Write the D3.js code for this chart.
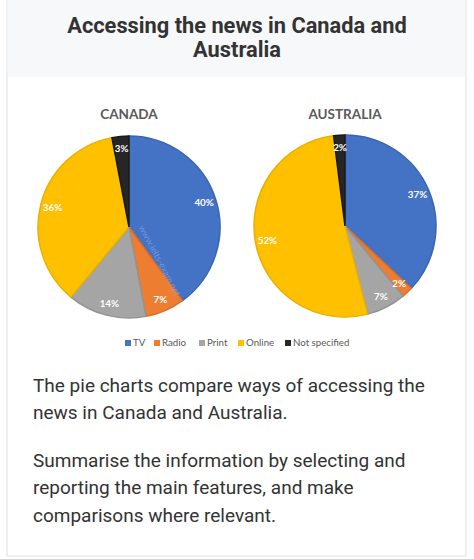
<!DOCTYPE html>
<html>
<head>
<meta charset="utf-8">
<script src="https://cdn.jsdelivr.net/npm/d3@7"></script>
<style>
  html, body { margin: 0; padding: 0; background: #fff; }
  svg { display: block; }
</style>
</head>
<body>
<div id="chart"></div>
<script>
var categories = ["TV", "Radio", "Print", "Online", "Not specified"]
var canada = [40, 7, 14, 36, 3]
var australia = [37, 2, 7, 52, 2]
var countries = ["CANADA", "AUSTRALIA"]
var colors = ["#4472c4", "#ed7d31", "#a5a5a5", "#ffc000", "#262626"]
var edges = ["#3a65b3", "#d96f28", "#949494", "#e9b000", "#1a1a1a"]

var W = 474, H = 559
var svg = d3.select('#chart').append('svg')
    .attr('width', W)
    .attr('height', H)

// card
svg.append('rect').attr('x', 7).attr('y', -2).attr('width', 459).attr('height', 558)
    .attr('fill', '#fff').attr('stroke', '#e4e4e4').attr('stroke-width', 1.2)
svg.append('rect').attr('x', 7.6).attr('y', 0).attr('width', 457.8).attr('height', 77)
    .attr('fill', '#f7f8f9')

var title = svg.append('text')
    .attr('text-anchor', 'middle')
    .attr('font-family', 'Roboto')
    .attr('font-weight', 'bold')
    .attr('font-size', 21.8)
    .attr('fill', '#333')
title.append('tspan').attr('x', 237).attr('y', 33).text('Accessing the news in Canada and')
title.append('tspan').attr('x', 237).attr('y', 57).text('Australia')

var pie = d3.pie().sort(null).value(function(d){ return d })
var R = 91
var arc = d3.arc().innerRadius(0).outerRadius(R)
var labelArc = d3.arc().innerRadius(79).outerRadius(79)
var centers = [[129, 227], [345, 226]]

;[canada, australia].forEach(function(data, k){
    var g = svg.append('g').attr('transform', 'translate(' + centers[k][0] + ',' + centers[k][1] + ')')
    g.append('text')
        .attr('x', 0).attr('y', -108 + (k == 0 ? 0 : 1))
        .attr('text-anchor', 'middle')
        .attr('font-family', 'Lato')
        .attr('font-weight', 'bold')
        .attr('font-size', 13.5)
        .attr('fill', '#595959')
        .text(countries[k])
    var arcs = pie(data)
    g.selectAll('path.slice')
        .data(arcs)
        .enter()
        .append('path')
        .attr('class', 'slice')
        .attr('d', arc)
        .attr('fill', function(d, i){ return colors[i] })
        .attr('stroke', function(d, i){ return edges[i] })
        .attr('stroke-width', 1.5)
    if (k == 0) {
        g.append('text')
            .attr('transform', 'translate(28,35) rotate(62)')
            .attr('text-anchor', 'middle')
            .attr('font-family', 'Lato')
            .attr('font-size', 9)
            .attr('fill', '#8fb0e6')
            .attr('opacity', 0.6)
            .text('www.ielts-exam.net')
    }
    g.selectAll('text.lbl')
        .data(arcs)
        .enter()
        .append('text')
        .attr('class', 'lbl')
        .attr('transform', function(d){ return 'translate(' + labelArc.centroid(d) + ')' })
        .attr('text-anchor', 'middle')
        .attr('dy', '0.35em')
        .attr('font-family', 'Lato')
        .attr('font-weight', 'bold')
        .attr('font-size', 9.8)
        .attr('fill', '#fff')
        .text(function(d){ return d.data + '%' })
})

// legend
var legX = [125, 154, 199, 238, 285]
var leg = svg.selectAll('g.leg')
    .data(categories)
    .enter()
    .append('g')
    .attr('class', 'leg')
    .attr('transform', function(d, i){ return 'translate(' + legX[i] + ',343)' })
leg.append('rect').attr('x', 0).attr('y', -3).attr('width', 6).attr('height', 6)
    .attr('fill', function(d, i){ return colors[i] })
leg.append('text').attr('x', 8).attr('y', 3.3)
    .attr('font-family', 'Lato').attr('font-size', 9.7).attr('fill', '#595959')
    .text(function(d){ return d })

// question text
var lines = [
    ["The pie charts compare ways of accessing the", 392],
    ["news in Canada and Australia.", 419],
    ["Summarise the information by selecting and", 467],
    ["reporting the main features, and make", 494],
    ["comparisons where relevant.", 522]
]
svg.selectAll('text.para')
    .data(lines)
    .enter()
    .append('text')
    .attr('class', 'para')
    .attr('x', 33)
    .attr('y', function(d){ return d[1] })
    .attr('font-family', 'Roboto')
    .attr('font-size', 19)
    .attr('fill', '#333')
    .text(function(d){ return d[0] })
</script>
</body>
</html>
